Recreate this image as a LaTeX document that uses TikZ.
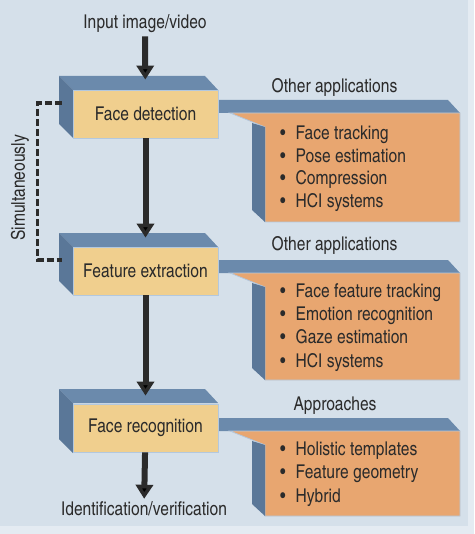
\documentclass[tikz,border=0pt]{standalone}
\usepackage{fontspec}
\setmainfont{texgyreheroscn}[Extension=.otf, UprightFont=*-regular, BoldFont=*-bold]
\usepackage{tikz}
\usetikzlibrary{arrows.meta,calc}

\definecolor{bgblue}{HTML}{D5E0EA}
\definecolor{bgrim}{HTML}{E4EBF2}
\definecolor{boxyellow}{HTML}{F0CF8E}
\definecolor{boxorange}{HTML}{E8A670}
\definecolor{bevtop}{HTML}{6B8AAC}
\definecolor{bevside}{HTML}{5A7798}
\definecolor{rimline}{HTML}{B3C8DE}
\definecolor{inkdark}{HTML}{2B2B2B}

\begin{document}
\begin{tikzpicture}[x=1pt, y=-1pt,
  every node/.style={font=\fontsize{19}{22}\selectfont, text=inkdark},
  stage/.style={fill=boxyellow, draw=rimline, line width=0.8pt, minimum width=145pt, minimum height=48pt, inner sep=0pt},
  item/.style={anchor=base west, inner sep=0pt},
  head/.style={anchor=base, inner sep=0pt},
  flow/.style={line width=6pt, draw=inkdark, -{Triangle[width=17pt,length=14pt]}},
  simul/.style={line width=3.5pt, draw=inkdark, dash pattern=on 7pt off 3pt}]

  \useasboundingbox (0,0) rectangle (474,534);
  \fill[bgrim] (0,0) rectangle (474,534);
  \fill[bgblue] (0,0) rectangle (468,526);

  % bevelled boxes: yellow stage and orange list
  \foreach \ft/\fb/\ot/\ob in {90/138/100/222, 247/295/260/380, 403/453/418/516}{
    \fill[bevtop] (59,\ft-14) -- (205,\ft-14) -- (218,\ft) -- (73,\ft) -- cycle;
    \fill[bevside] (59,\ft-14) -- (73,\ft) -- (73,\fb) -- (59,\fb-14) -- cycle;
    \fill[bevtop] (218,\ot) -- (448,\ot) -- (460,\ot+13) -- (218,\ot+13) -- cycle;
    \filldraw[fill=boxorange, draw=rimline, line width=0.8pt] (230,\ot+13) -- (460,\ot+13) -- (460,\ob) -- (265,\ob) -- (265,\ot+27) -- cycle;
    \fill[bevside] (252,\ot+23) -- (265,\ot+27) -- (265,\ob) -- (252,\ob-12) -- cycle;
  }

  \node[head] (input) at (145,29) {Input image/video};
  \node[stage] (fd) at (145.5,114) {Face detection};
  \node[stage] (fe) at (145.5,271) {Feature extraction};
  \node[stage] (fr) at (145.5,428) {Face recognition};
  \node[head] (ident) at (144,515) {Identification/verification};

  \path[flow] (input) edge[shorten <=3pt, shorten >=10pt] (fd);
  \path[flow] (fd) edge[shorten >=9pt] (fe);
  \path[flow] (fe) edge[shorten >=8pt] (fr);
  \path[flow] (fr) edge[shorten >=2pt] (ident);

  \draw[simul] ([xshift=-11pt,yshift=11pt]fd.west) -- ++(-24pt,0) |- ([xshift=-11pt,yshift=11pt]fe.west);
  \node[rotate=90] (simultext) at (20,188) {Simultaneously};

  \node[head] (other1) at (334.5,93) {Other applications};
  \node[item] (fd1) at (280,140) {\textbullet\hspace{10pt}Face tracking};
  \node[item] (fd2) at (280,162.5) {\textbullet\hspace{10pt}Pose estimation};
  \node[item] (fd3) at (280,185) {\textbullet\hspace{10pt}Compression};
  \node[item] (fd4) at (280,207.5) {\textbullet\hspace{10pt}HCI systems};

  \node[head] (other2) at (334.5,250) {Other applications};
  \node[item] (fe1) at (280,297) {\textbullet\hspace{10pt}Face feature tracking};
  \node[item] (fe2) at (280,320) {\textbullet\hspace{10pt}Emotion recognition};
  \node[item] (fe3) at (280,343) {\textbullet\hspace{10pt}Gaze estimation};
  \node[item] (fe4) at (280,367) {\textbullet\hspace{10pt}HCI systems};

  \node[head] (approach) at (335,410) {Approaches};
  \node[item] (fr1) at (280,455) {\textbullet\hspace{10pt}Holistic templates};
  \node[item] (fr2) at (280,478) {\textbullet\hspace{10pt}Feature geometry};
  \node[item] (fr3) at (280,502) {\textbullet\hspace{10pt}Hybrid};
\end{tikzpicture}
\end{document}
